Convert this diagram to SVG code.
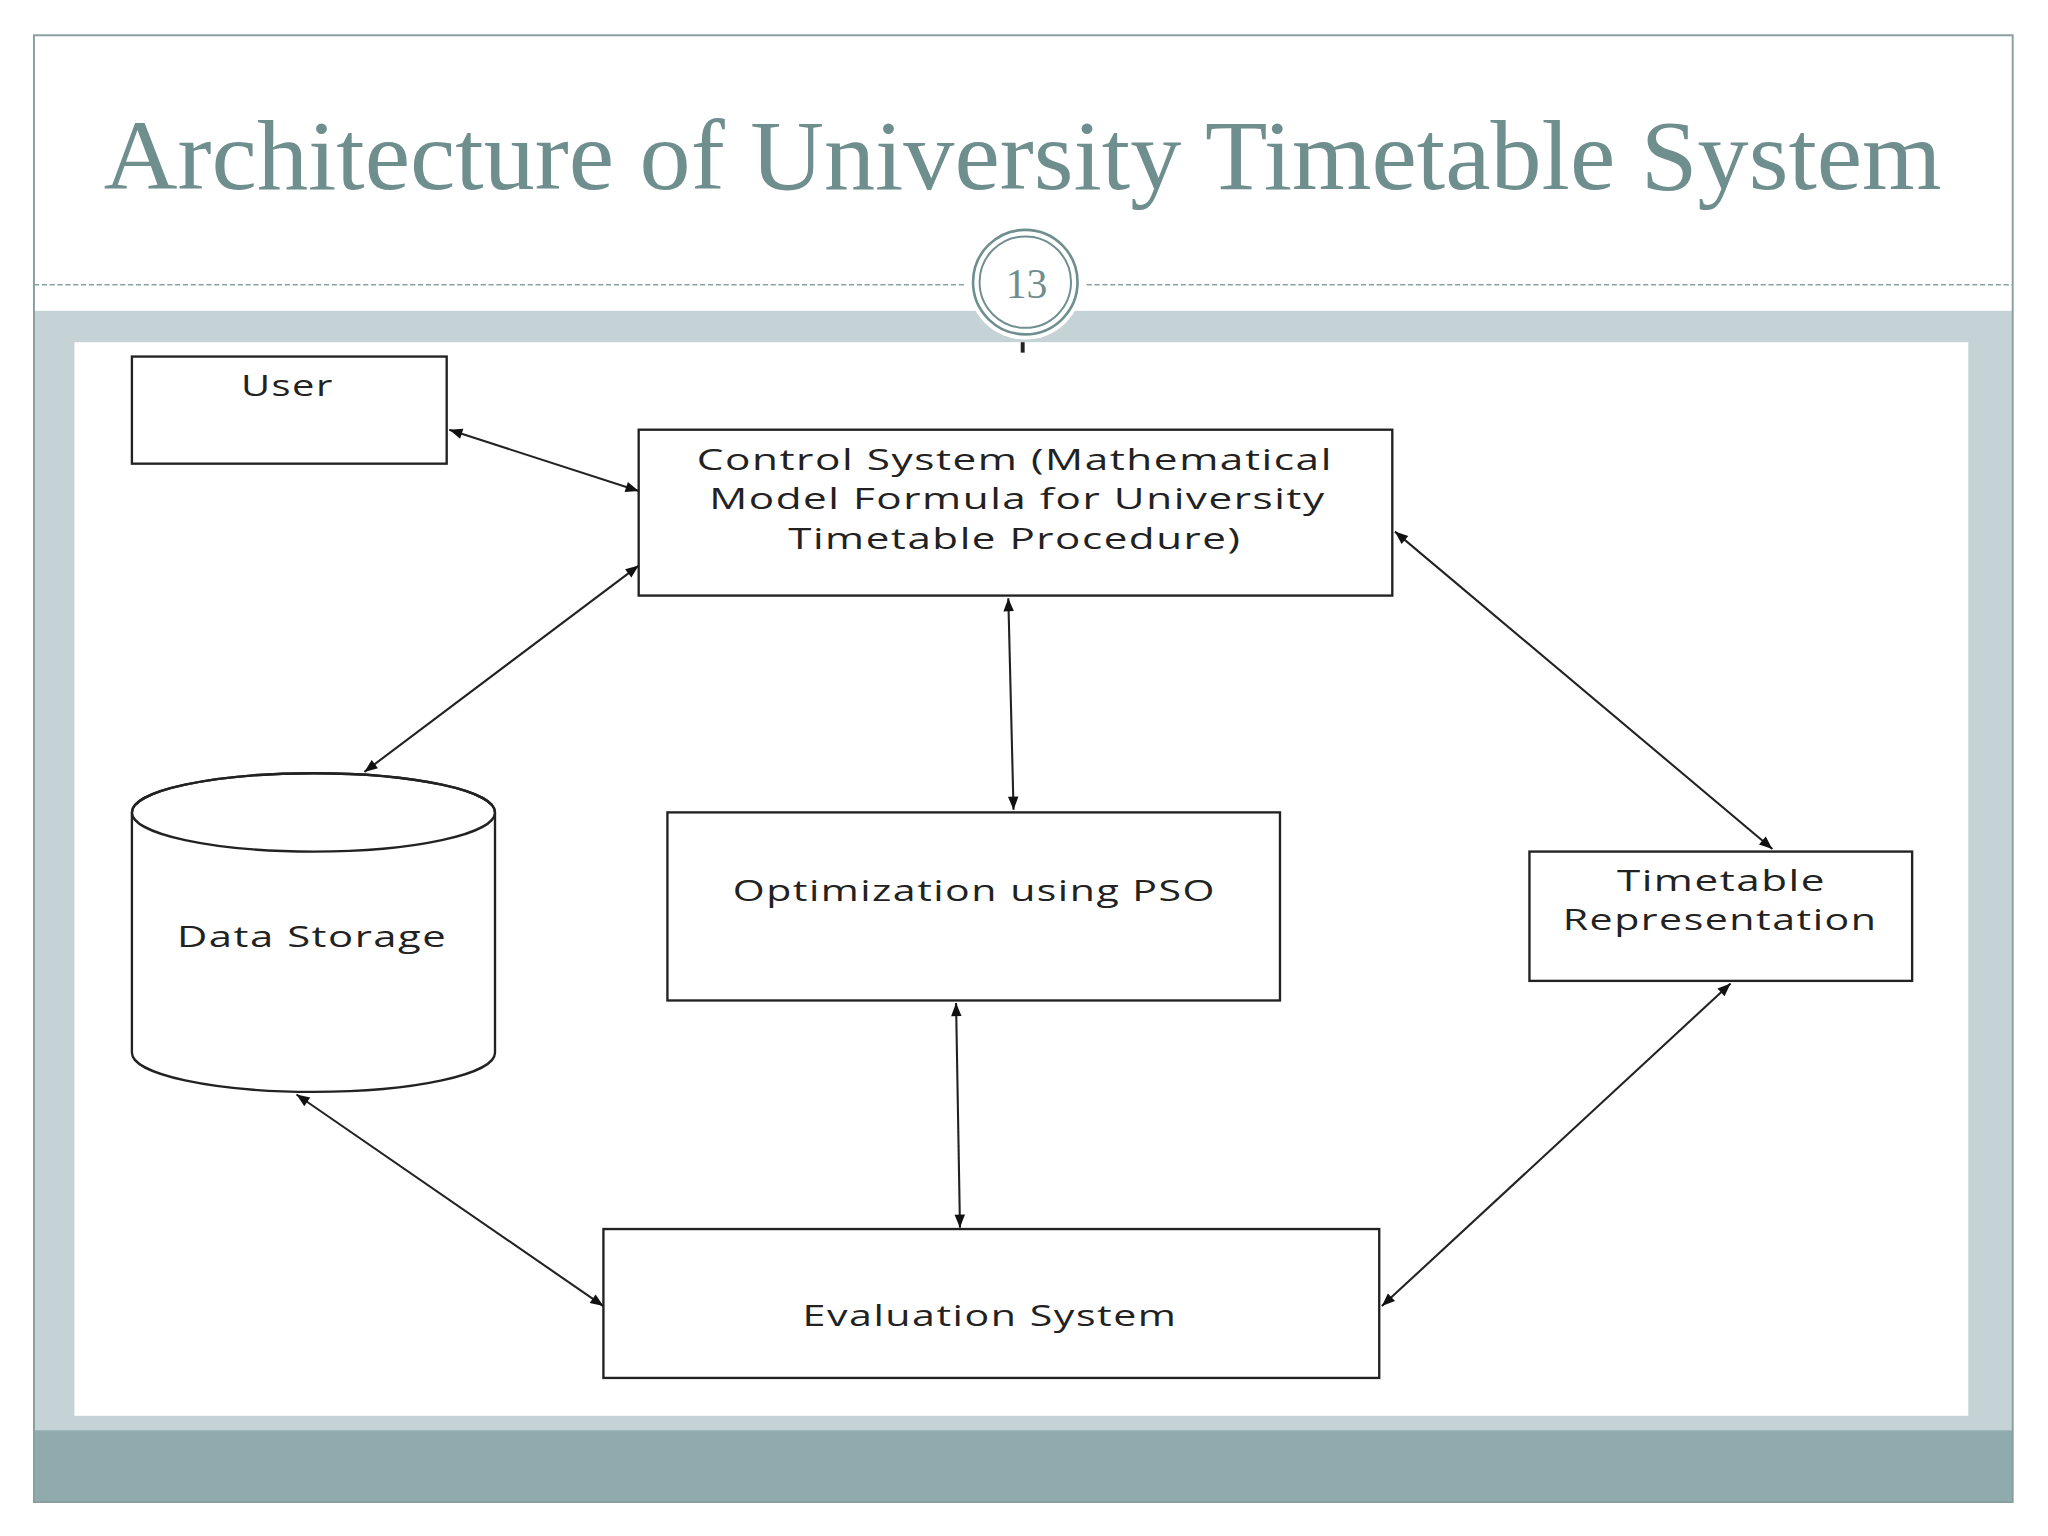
<svg xmlns="http://www.w3.org/2000/svg" width="2048" height="1536" viewBox="0 0 2048 1536">
<defs>
<marker id="ah" viewBox="0 0 10 10" refX="10" refY="5" markerWidth="11" markerHeight="10" orient="auto-start-reverse" markerUnits="userSpaceOnUse"><path d="M0,1 L10,5 L0,9 z" fill="#111"/></marker>
<style>
.box{fill:#fff;stroke:#222;stroke-width:1.8}
.t{font-family:"Open Sans","DejaVu Sans",sans-serif;font-size:22px;fill:#222;text-anchor:middle;letter-spacing:0.8px}
.c{stroke:#222;stroke-width:1.6;fill:none;marker-start:url(#ah);marker-end:url(#ah)}
</style>
</defs>
<rect width="2048" height="1536" fill="#fff"/>
<g transform="scale(1.3061)">
<rect x="26" y="238" width="1515" height="857" fill="#c5d3d6"/>
<rect x="26" y="1095" width="1515" height="55" fill="#8fabad"/>
<rect x="26" y="27" width="1515" height="1123" fill="none" stroke="#8aa0a0" stroke-width="1.5"/>
<text x="783" y="145" font-family="Liberation Serif,serif" font-size="76" fill="#6f8f8e" text-anchor="middle" textLength="1407" lengthAdjust="spacingAndGlyphs">Architecture of University Timetable System</text>
<line x1="26" y1="218" x2="738" y2="218" stroke="#8aa0a0" stroke-dasharray="4,2"/>
<line x1="832" y1="218" x2="1541" y2="218" stroke="#8aa0a0" stroke-dasharray="4,2"/>
<rect x="57" y="262" width="1450" height="822" fill="#fff"/>
<circle cx="785" cy="216" r="44" fill="#fff"/>
<circle cx="785" cy="216" r="40" fill="#fff" stroke="#6f8f8e" stroke-width="2"/>
<circle cx="785" cy="216" r="35" fill="none" stroke="#6f8f8e" stroke-width="1.5"/>
<text x="786" y="228" font-family="Liberation Serif,serif" font-size="32" fill="#6f8f8e" text-anchor="middle">13</text>
<line x1="783" y1="262" x2="783" y2="270" stroke="#222" stroke-width="3"/>
<g id="connectors">
<line class="c" x1="344" y1="329" x2="489" y2="376"/>
<line class="c" x1="489" y1="433" x2="279" y2="591"/>
<line class="c" x1="772" y1="458" x2="776" y2="620"/>
<line class="c" x1="1068" y1="407" x2="1357" y2="650"/>
<line class="c" x1="732" y1="768" x2="735" y2="940"/>
<line class="c" x1="227" y1="838" x2="462" y2="1000"/>
<line class="c" x1="1325" y1="753" x2="1058" y2="1000"/>
</g>
<g id="user"><rect class="box" x="101" y="273" width="241" height="82"/><text class="t" x="220" y="303" textLength="71" lengthAdjust="spacingAndGlyphs">User</text></g>
<g id="control"><rect class="box" x="489" y="329" width="577" height="127"/>
<text class="t" x="777" y="360" textLength="487" lengthAdjust="spacingAndGlyphs">Control System (Mathematical</text>
<text class="t" x="779" y="390" textLength="472" lengthAdjust="spacingAndGlyphs">Model Formula for University</text>
<text class="t" x="777" y="420" textLength="347" lengthAdjust="spacingAndGlyphs">Timetable Procedure)</text></g>
<g id="storage"><path class="box" d="M101,622 L101,806 A139,30 0 0 0 379,806 L379,622 A139,30 0 0 0 101,622 Z"/>
<ellipse cx="240" cy="622" rx="139" ry="30" fill="none" stroke="#222" stroke-width="1.8"/>
<text class="t" x="239" y="725" textLength="207" lengthAdjust="spacingAndGlyphs">Data Storage</text></g>
<g id="optimization"><rect class="box" x="511" y="622" width="469" height="144"/><text class="t" x="746" y="690" textLength="370" lengthAdjust="spacingAndGlyphs">Optimization using PSO</text></g>
<g id="timetable"><rect class="box" x="1171" y="652" width="293" height="99"/>
<text class="t" x="1318" y="682" textLength="160" lengthAdjust="spacingAndGlyphs">Timetable</text><text class="t" x="1317" y="712" textLength="241" lengthAdjust="spacingAndGlyphs">Representation</text></g>
<g id="evaluation"><rect class="box" x="462" y="941" width="594" height="114"/><text class="t" x="758" y="1015" textLength="287" lengthAdjust="spacingAndGlyphs">Evaluation System</text></g>
</g>
</svg>
